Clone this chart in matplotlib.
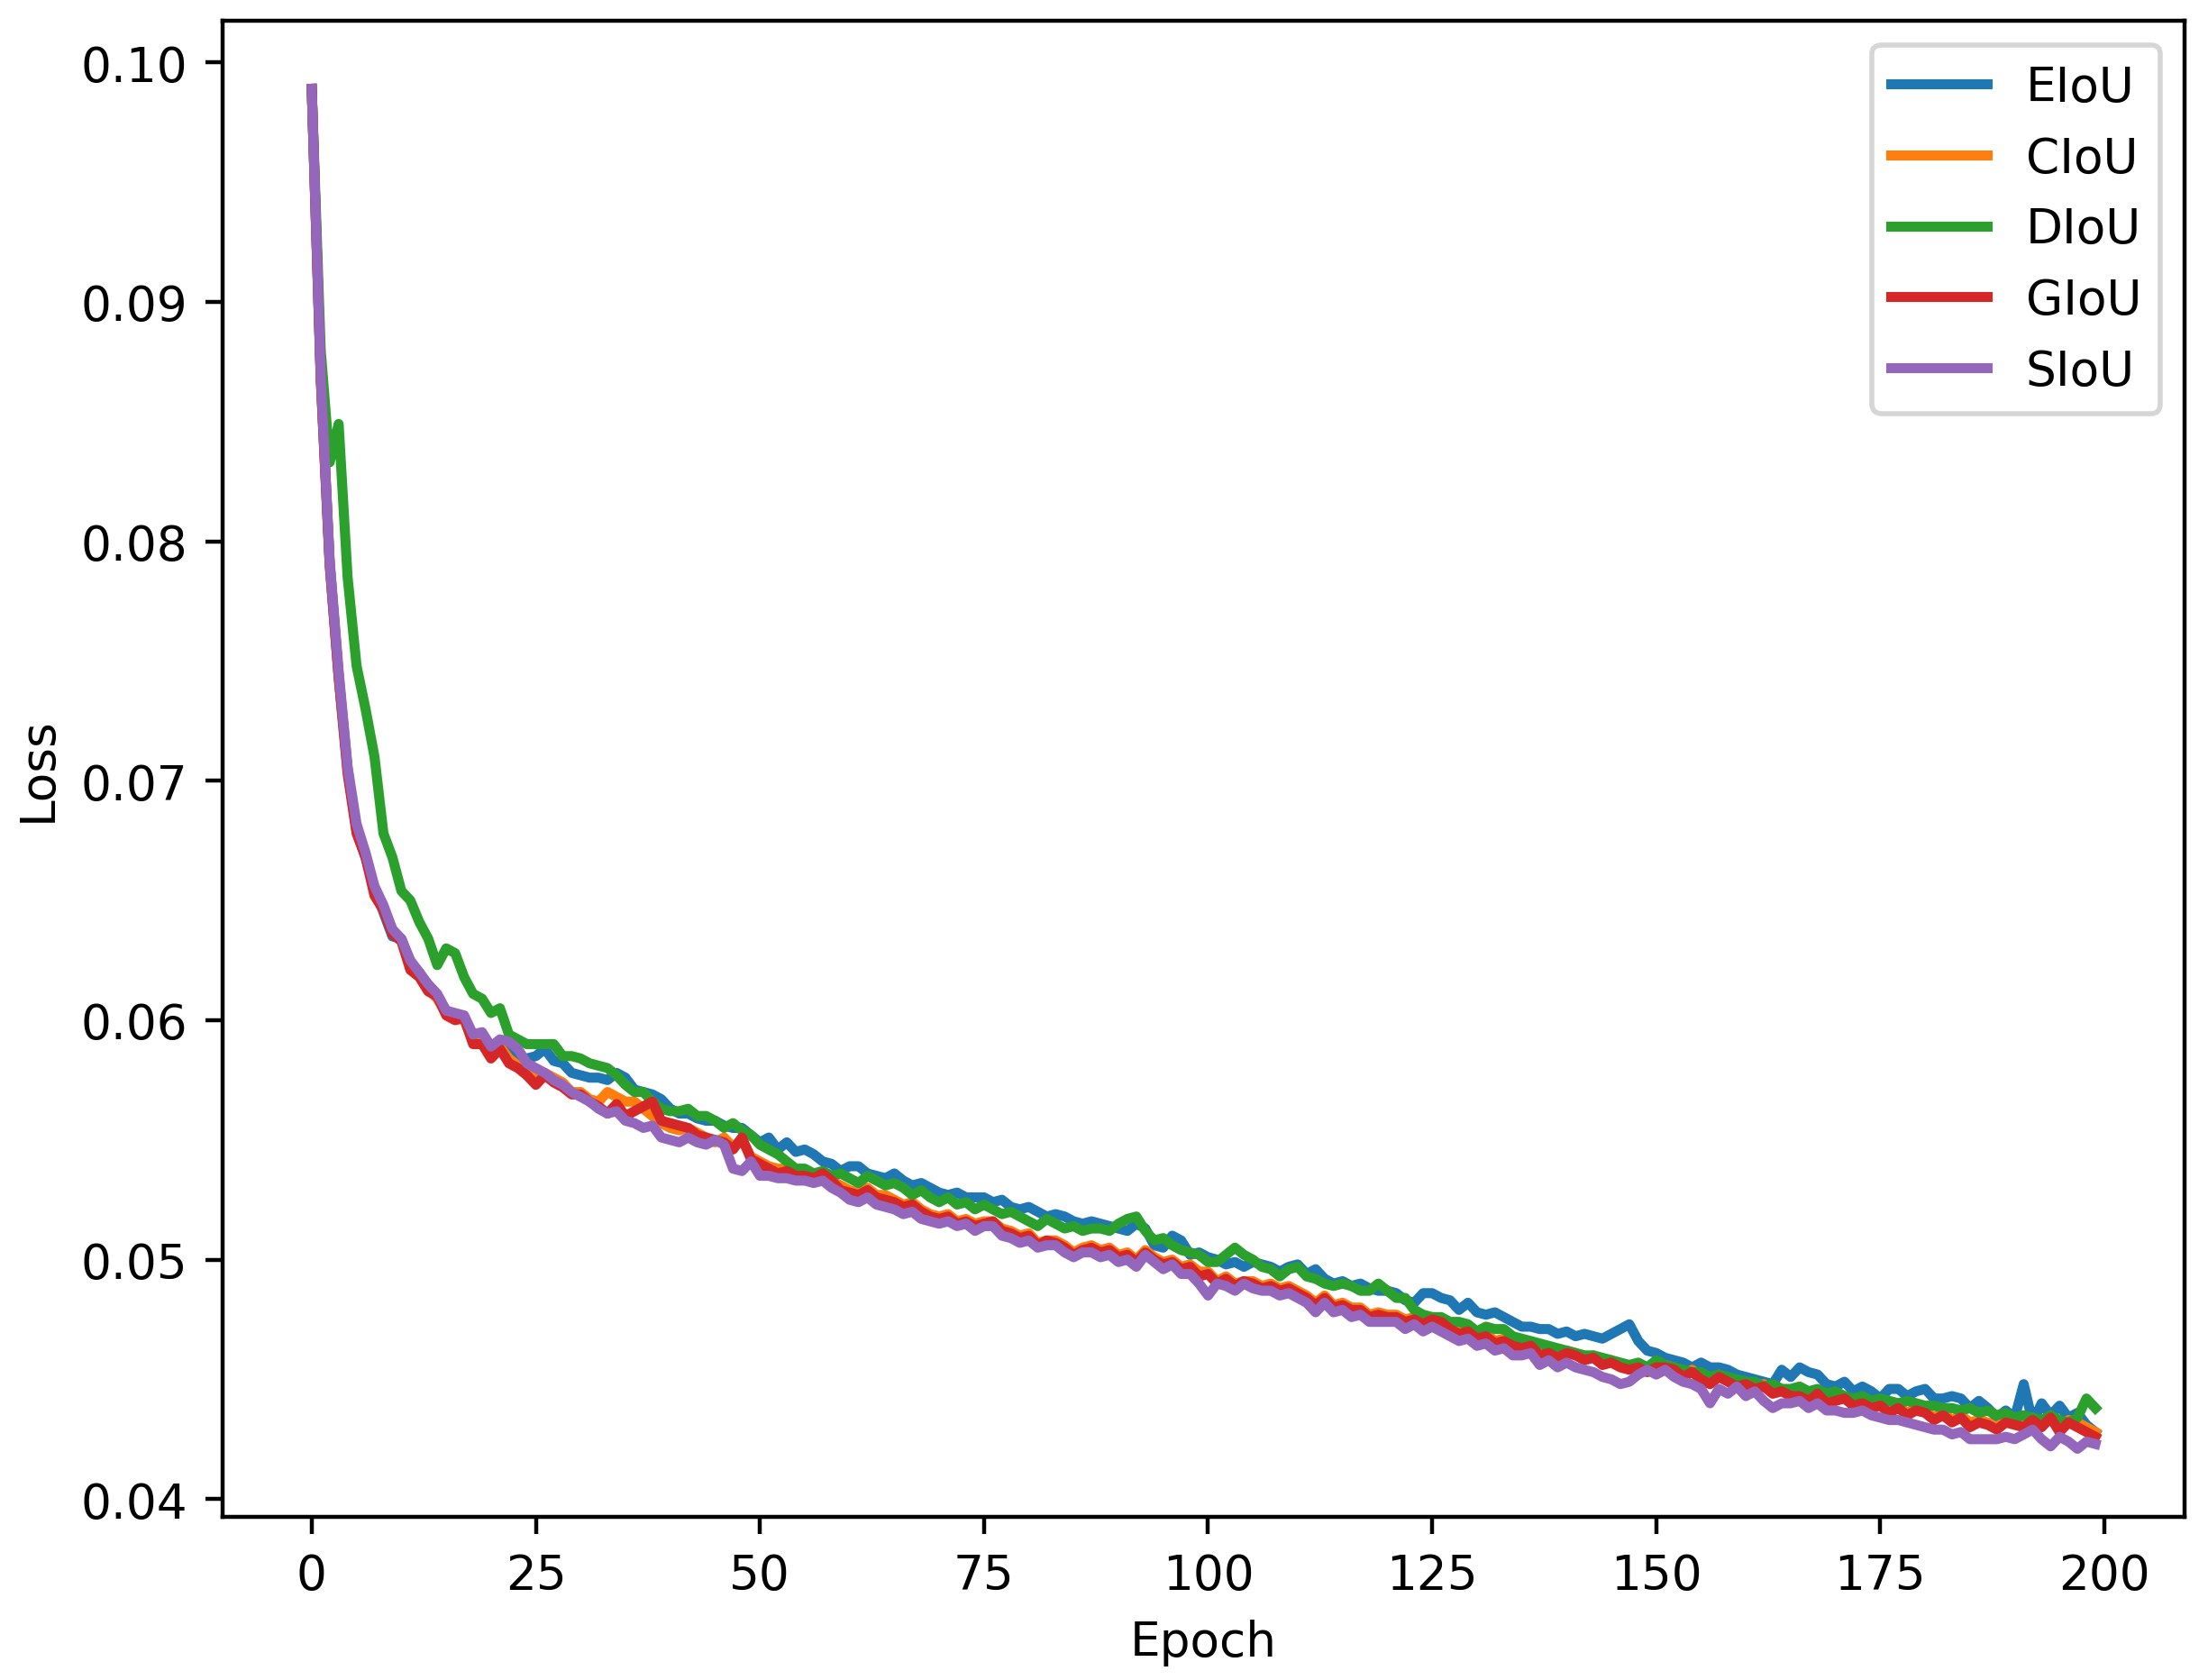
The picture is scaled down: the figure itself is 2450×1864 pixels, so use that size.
import numpy as np
import matplotlib.pyplot as plt

plt.rcParams['font.size'] = 9.6

epochs = np.arange(200)

eiou = [
    0.0989, 0.0869, 0.0791, 0.0744, 0.0705, 0.0679, 0.0668, 0.0655, 0.0645, 0.0635, 0.0634, 0.0624, 0.0620, 0.0614, 0.0610, 0.0604, 0.0602, 0.0601, 0.0593, 0.0592, 0.0588, 0.0590, 0.0587, 0.0585, 0.0584,
    0.0585, 0.0588, 0.0583, 0.0582, 0.0578, 0.0577, 0.0576, 0.0576, 0.0575, 0.0578, 0.0576, 0.0571, 0.0570, 0.0569, 0.0567, 0.0563, 0.0561, 0.0561, 0.0559, 0.0558, 0.0558, 0.0556, 0.0555, 0.0555, 0.0552,
    0.0549, 0.0551, 0.0546, 0.0549, 0.0545, 0.0546, 0.0544, 0.0541, 0.0540, 0.0537, 0.0539, 0.0539, 0.0536, 0.0535, 0.0534, 0.0536, 0.0533, 0.0531, 0.0532, 0.0530, 0.0528, 0.0527, 0.0528, 0.0526, 0.0526,
    0.0526, 0.0524, 0.0525, 0.0522, 0.0521, 0.0522, 0.0520, 0.0518, 0.0519, 0.0518, 0.0516, 0.0515, 0.0516, 0.0515, 0.0514, 0.0513, 0.0512, 0.0515, 0.0513, 0.0506, 0.0505, 0.0510, 0.0508, 0.0502, 0.0503,
    0.0501, 0.0500, 0.0498, 0.0499, 0.0497, 0.0499, 0.0498, 0.0497, 0.0495, 0.0497, 0.0498, 0.0494, 0.0496, 0.0492, 0.0490, 0.0491, 0.0489, 0.0490, 0.0488, 0.0487, 0.0487, 0.0486, 0.0483, 0.0482, 0.0486,
    0.0486, 0.0484, 0.0483, 0.0479, 0.0482, 0.0478, 0.0477, 0.0478, 0.0476, 0.0474, 0.0472, 0.0472, 0.0471, 0.0471, 0.0469, 0.0470, 0.0468, 0.0469, 0.0468, 0.0467, 0.0469, 0.0471, 0.0473, 0.0466, 0.0462,
    0.0461, 0.0459, 0.0458, 0.0457, 0.0455, 0.0457, 0.0455, 0.0455, 0.0454, 0.0452, 0.0451, 0.0450, 0.0449, 0.0448, 0.0454, 0.0451, 0.0455, 0.0453, 0.0452, 0.0448, 0.0447, 0.0449, 0.0445, 0.0447, 0.0445,
    0.0442, 0.0446, 0.0446, 0.0443, 0.0445, 0.0446, 0.0442, 0.0442, 0.0443, 0.0442, 0.0438, 0.0441, 0.0438, 0.0434, 0.0437, 0.0434, 0.0448, 0.0432, 0.0440, 0.0435, 0.0439, 0.0434, 0.0436, 0.0431, 0.0428,
]

ciou = [
    0.0989, 0.0869, 0.0791, 0.0744, 0.0704, 0.0680, 0.0669, 0.0654, 0.0646, 0.0637, 0.0633, 0.0623, 0.0619, 0.0613, 0.0609, 0.0603, 0.0601, 0.0600, 0.0591, 0.0591, 0.0586, 0.0589, 0.0584, 0.0581, 0.0578,
    0.0576, 0.0578, 0.0576, 0.0574, 0.0570, 0.0570, 0.0567, 0.0566, 0.0570, 0.0568, 0.0566, 0.0566, 0.0563, 0.0560, 0.0557, 0.0555, 0.0554, 0.0555, 0.0553, 0.0551, 0.0549, 0.0551, 0.0547, 0.0550, 0.0543,
    0.0541, 0.0539, 0.0538, 0.0538, 0.0536, 0.0536, 0.0535, 0.0536, 0.0533, 0.0531, 0.0529, 0.0528, 0.0530, 0.0527, 0.0527, 0.0525, 0.0523, 0.0524, 0.0521, 0.0519, 0.0518, 0.0519, 0.0516, 0.0517, 0.0515,
    0.0516, 0.0516, 0.0513, 0.0512, 0.0510, 0.0511, 0.0507, 0.0508, 0.0508, 0.0506, 0.0503, 0.0505, 0.0506, 0.0504, 0.0505, 0.0502, 0.0503, 0.0500, 0.0504, 0.0501, 0.0499, 0.0500, 0.0497, 0.0498, 0.0495,
    0.0495, 0.0491, 0.0493, 0.0490, 0.0491, 0.0491, 0.0489, 0.0490, 0.0488, 0.0489, 0.0487, 0.0485, 0.0482, 0.0485, 0.0481, 0.0482, 0.0480, 0.0480, 0.0477, 0.0478, 0.0477, 0.0477, 0.0475, 0.0476, 0.0474,
    0.0476, 0.0475, 0.0472, 0.0470, 0.0471, 0.0468, 0.0469, 0.0466, 0.0467, 0.0465, 0.0464, 0.0465, 0.0461, 0.0462, 0.0460, 0.0462, 0.0461, 0.0459, 0.0460, 0.0457, 0.0458, 0.0456, 0.0455, 0.0456, 0.0454,
    0.0455, 0.0456, 0.0455, 0.0452, 0.0454, 0.0451, 0.0449, 0.0452, 0.0450, 0.0448, 0.0449, 0.0447, 0.0448, 0.0445, 0.0446, 0.0444, 0.0444, 0.0442, 0.0445, 0.0441, 0.0442, 0.0443, 0.0440, 0.0441, 0.0439,
    0.0440, 0.0437, 0.0439, 0.0436, 0.0438, 0.0437, 0.0434, 0.0436, 0.0433, 0.0435, 0.0432, 0.0433, 0.0432, 0.0430, 0.0433, 0.0432, 0.0431, 0.0434, 0.0431, 0.0435, 0.0430, 0.0433, 0.0432, 0.0430, 0.0428,
]

diou = [
    0.0989, 0.0880, 0.0833, 0.0849, 0.0785, 0.0748, 0.0730, 0.0710, 0.0678, 0.0668, 0.0654, 0.0650, 0.0641, 0.0634, 0.0623, 0.0630, 0.0628, 0.0618, 0.0611, 0.0609, 0.0603, 0.0605, 0.0594, 0.0592, 0.0590,
    0.0590, 0.0590, 0.0590, 0.0585, 0.0585, 0.0584, 0.0582, 0.0581, 0.0580, 0.0577, 0.0573, 0.0570, 0.0570, 0.0566, 0.0563, 0.0562, 0.0562, 0.0563, 0.0560, 0.0560, 0.0558, 0.0555, 0.0557, 0.0554, 0.0552,
    0.0548, 0.0546, 0.0544, 0.0541, 0.0538, 0.0538, 0.0536, 0.0537, 0.0535, 0.0536, 0.0534, 0.0532, 0.0535, 0.0533, 0.0531, 0.0532, 0.0530, 0.0527, 0.0529, 0.0526, 0.0524, 0.0526, 0.0523, 0.0524, 0.0521,
    0.0523, 0.0521, 0.0519, 0.0520, 0.0518, 0.0516, 0.0514, 0.0517, 0.0515, 0.0513, 0.0514, 0.0512, 0.0513, 0.0513, 0.0512, 0.0515, 0.0517, 0.0518, 0.0512, 0.0508, 0.0509, 0.0506, 0.0504, 0.0503, 0.0502,
    0.0499, 0.0499, 0.0502, 0.0505, 0.0502, 0.0500, 0.0497, 0.0496, 0.0493, 0.0496, 0.0497, 0.0493, 0.0492, 0.0490, 0.0489, 0.0490, 0.0489, 0.0487, 0.0487, 0.0490, 0.0487, 0.0484, 0.0484, 0.0479, 0.0477,
    0.0476, 0.0476, 0.0474, 0.0474, 0.0473, 0.0470, 0.0472, 0.0471, 0.0471, 0.0468, 0.0467, 0.0466, 0.0465, 0.0464, 0.0463, 0.0462, 0.0461, 0.0460, 0.0460, 0.0459, 0.0458, 0.0457, 0.0456, 0.0457, 0.0455,
    0.0458, 0.0456, 0.0455, 0.0454, 0.0453, 0.0453, 0.0451, 0.0452, 0.0451, 0.0450, 0.0449, 0.0449, 0.0447, 0.0448, 0.0446, 0.0446, 0.0447, 0.0445, 0.0446, 0.0444, 0.0445, 0.0443, 0.0442, 0.0443, 0.0441,
    0.0442, 0.0441, 0.0440, 0.0441, 0.0440, 0.0439, 0.0439, 0.0438, 0.0438, 0.0437, 0.0438, 0.0436, 0.0437, 0.0435, 0.0436, 0.0434, 0.0435, 0.0434, 0.0433, 0.0435, 0.0433, 0.0432, 0.0434, 0.0442, 0.0438,
]

giou = [
    0.0989, 0.0868, 0.0790, 0.0743, 0.0703, 0.0678, 0.0668, 0.0652, 0.0646, 0.0636, 0.0633, 0.0621, 0.0618, 0.0612, 0.0610, 0.0602, 0.0600, 0.0601, 0.0590, 0.0590, 0.0584, 0.0588, 0.0582, 0.0580, 0.0577,
    0.0573, 0.0577, 0.0574, 0.0572, 0.0569, 0.0569, 0.0566, 0.0564, 0.0561, 0.0565, 0.0560, 0.0562, 0.0564, 0.0566, 0.0558, 0.0557, 0.0556, 0.0555, 0.0552, 0.0551, 0.0550, 0.0549, 0.0546, 0.0551, 0.0542,
    0.0540, 0.0538, 0.0536, 0.0537, 0.0535, 0.0535, 0.0534, 0.0536, 0.0533, 0.0529, 0.0528, 0.0527, 0.0529, 0.0526, 0.0525, 0.0524, 0.0522, 0.0523, 0.0520, 0.0518, 0.0517, 0.0518, 0.0515, 0.0516, 0.0514,
    0.0515, 0.0516, 0.0512, 0.0511, 0.0509, 0.0510, 0.0506, 0.0508, 0.0507, 0.0505, 0.0502, 0.0504, 0.0505, 0.0503, 0.0504, 0.0501, 0.0502, 0.0499, 0.0503, 0.0500, 0.0498, 0.0499, 0.0496, 0.0497, 0.0493,
    0.0494, 0.0490, 0.0492, 0.0489, 0.0491, 0.0490, 0.0488, 0.0489, 0.0487, 0.0488, 0.0486, 0.0484, 0.0481, 0.0484, 0.0480, 0.0481, 0.0479, 0.0479, 0.0476, 0.0477, 0.0476, 0.0476, 0.0474, 0.0475, 0.0473,
    0.0475, 0.0474, 0.0471, 0.0469, 0.0470, 0.0467, 0.0468, 0.0465, 0.0466, 0.0464, 0.0463, 0.0464, 0.0460, 0.0461, 0.0459, 0.0461, 0.0460, 0.0458, 0.0459, 0.0456, 0.0457, 0.0455, 0.0454, 0.0455, 0.0453,
    0.0455, 0.0455, 0.0454, 0.0451, 0.0453, 0.0450, 0.0448, 0.0451, 0.0449, 0.0447, 0.0448, 0.0446, 0.0447, 0.0444, 0.0445, 0.0443, 0.0443, 0.0441, 0.0444, 0.0440, 0.0441, 0.0442, 0.0439, 0.0440, 0.0438,
    0.0439, 0.0436, 0.0438, 0.0435, 0.0437, 0.0436, 0.0433, 0.0435, 0.0432, 0.0434, 0.0430, 0.0432, 0.0431, 0.0429, 0.0432, 0.0431, 0.0430, 0.0433, 0.0430, 0.0434, 0.0428, 0.0432, 0.0430, 0.0428, 0.0426,
]

siou = [
    0.0989, 0.0870, 0.0792, 0.0746, 0.0706, 0.0682, 0.0670, 0.0656, 0.0648, 0.0638, 0.0634, 0.0625, 0.0620, 0.0615, 0.0611, 0.0604, 0.0603, 0.0602, 0.0594, 0.0595, 0.0589, 0.0592, 0.0591, 0.0588, 0.0582,
    0.0580, 0.0578, 0.0575, 0.0573, 0.0570, 0.0568, 0.0566, 0.0563, 0.0561, 0.0562, 0.0558, 0.0557, 0.0555, 0.0556, 0.0551, 0.0550, 0.0549, 0.0551, 0.0549, 0.0548, 0.0550, 0.0548, 0.0538, 0.0537, 0.0541,
    0.0535, 0.0535, 0.0534, 0.0534, 0.0533, 0.0533, 0.0532, 0.0533, 0.0530, 0.0528, 0.0525, 0.0524, 0.0526, 0.0523, 0.0522, 0.0521, 0.0519, 0.0520, 0.0517, 0.0516, 0.0515, 0.0516, 0.0514, 0.0515, 0.0512,
    0.0514, 0.0514, 0.0510, 0.0509, 0.0507, 0.0508, 0.0505, 0.0506, 0.0506, 0.0503, 0.0501, 0.0503, 0.0503, 0.0501, 0.0502, 0.0499, 0.0500, 0.0497, 0.0502, 0.0499, 0.0496, 0.0498, 0.0494, 0.0494, 0.0490,
    0.0485, 0.0490, 0.0489, 0.0487, 0.0490, 0.0488, 0.0487, 0.0487, 0.0485, 0.0486, 0.0484, 0.0482, 0.0478, 0.0482, 0.0478, 0.0479, 0.0476, 0.0477, 0.0474, 0.0474, 0.0474, 0.0474, 0.0471, 0.0473, 0.0470,
    0.0472, 0.0470, 0.0468, 0.0466, 0.0467, 0.0464, 0.0465, 0.0462, 0.0463, 0.0460, 0.0460, 0.0461, 0.0456, 0.0458, 0.0455, 0.0457, 0.0455, 0.0454, 0.0453, 0.0451, 0.0450, 0.0448, 0.0449, 0.0452, 0.0454,
    0.0452, 0.0454, 0.0451, 0.0449, 0.0448, 0.0446, 0.0440, 0.0446, 0.0444, 0.0447, 0.0443, 0.0445, 0.0441, 0.0438, 0.0440, 0.0440, 0.0441, 0.0438, 0.0440, 0.0437, 0.0437, 0.0436, 0.0436, 0.0437, 0.0435,
    0.0434, 0.0433, 0.0433, 0.0432, 0.0431, 0.0430, 0.0429, 0.0429, 0.0427, 0.0428, 0.0425, 0.0425, 0.0425, 0.0425, 0.0426, 0.0425, 0.0427, 0.0429, 0.0425, 0.0422, 0.0426, 0.0424, 0.0421, 0.0424, 0.0423,
]

series = [("EIoU", eiou), ("CIoU", ciou), ("DIoU", diou), ("GIoU", giou), ("SIoU", siou)]

fig = plt.figure(figsize=(6.125, 4.6625), dpi=400)
ax = fig.add_axes([0.1008, 0.0971, 0.8886, 0.8900])
for name, vals in series:
    ax.plot(epochs, vals, label=name, linewidth=2)
ax.set_xlabel("Epoch")
ax.set_ylabel("Loss")
ax.legend(loc="upper right")
fig.savefig("out.png", dpi=400)
